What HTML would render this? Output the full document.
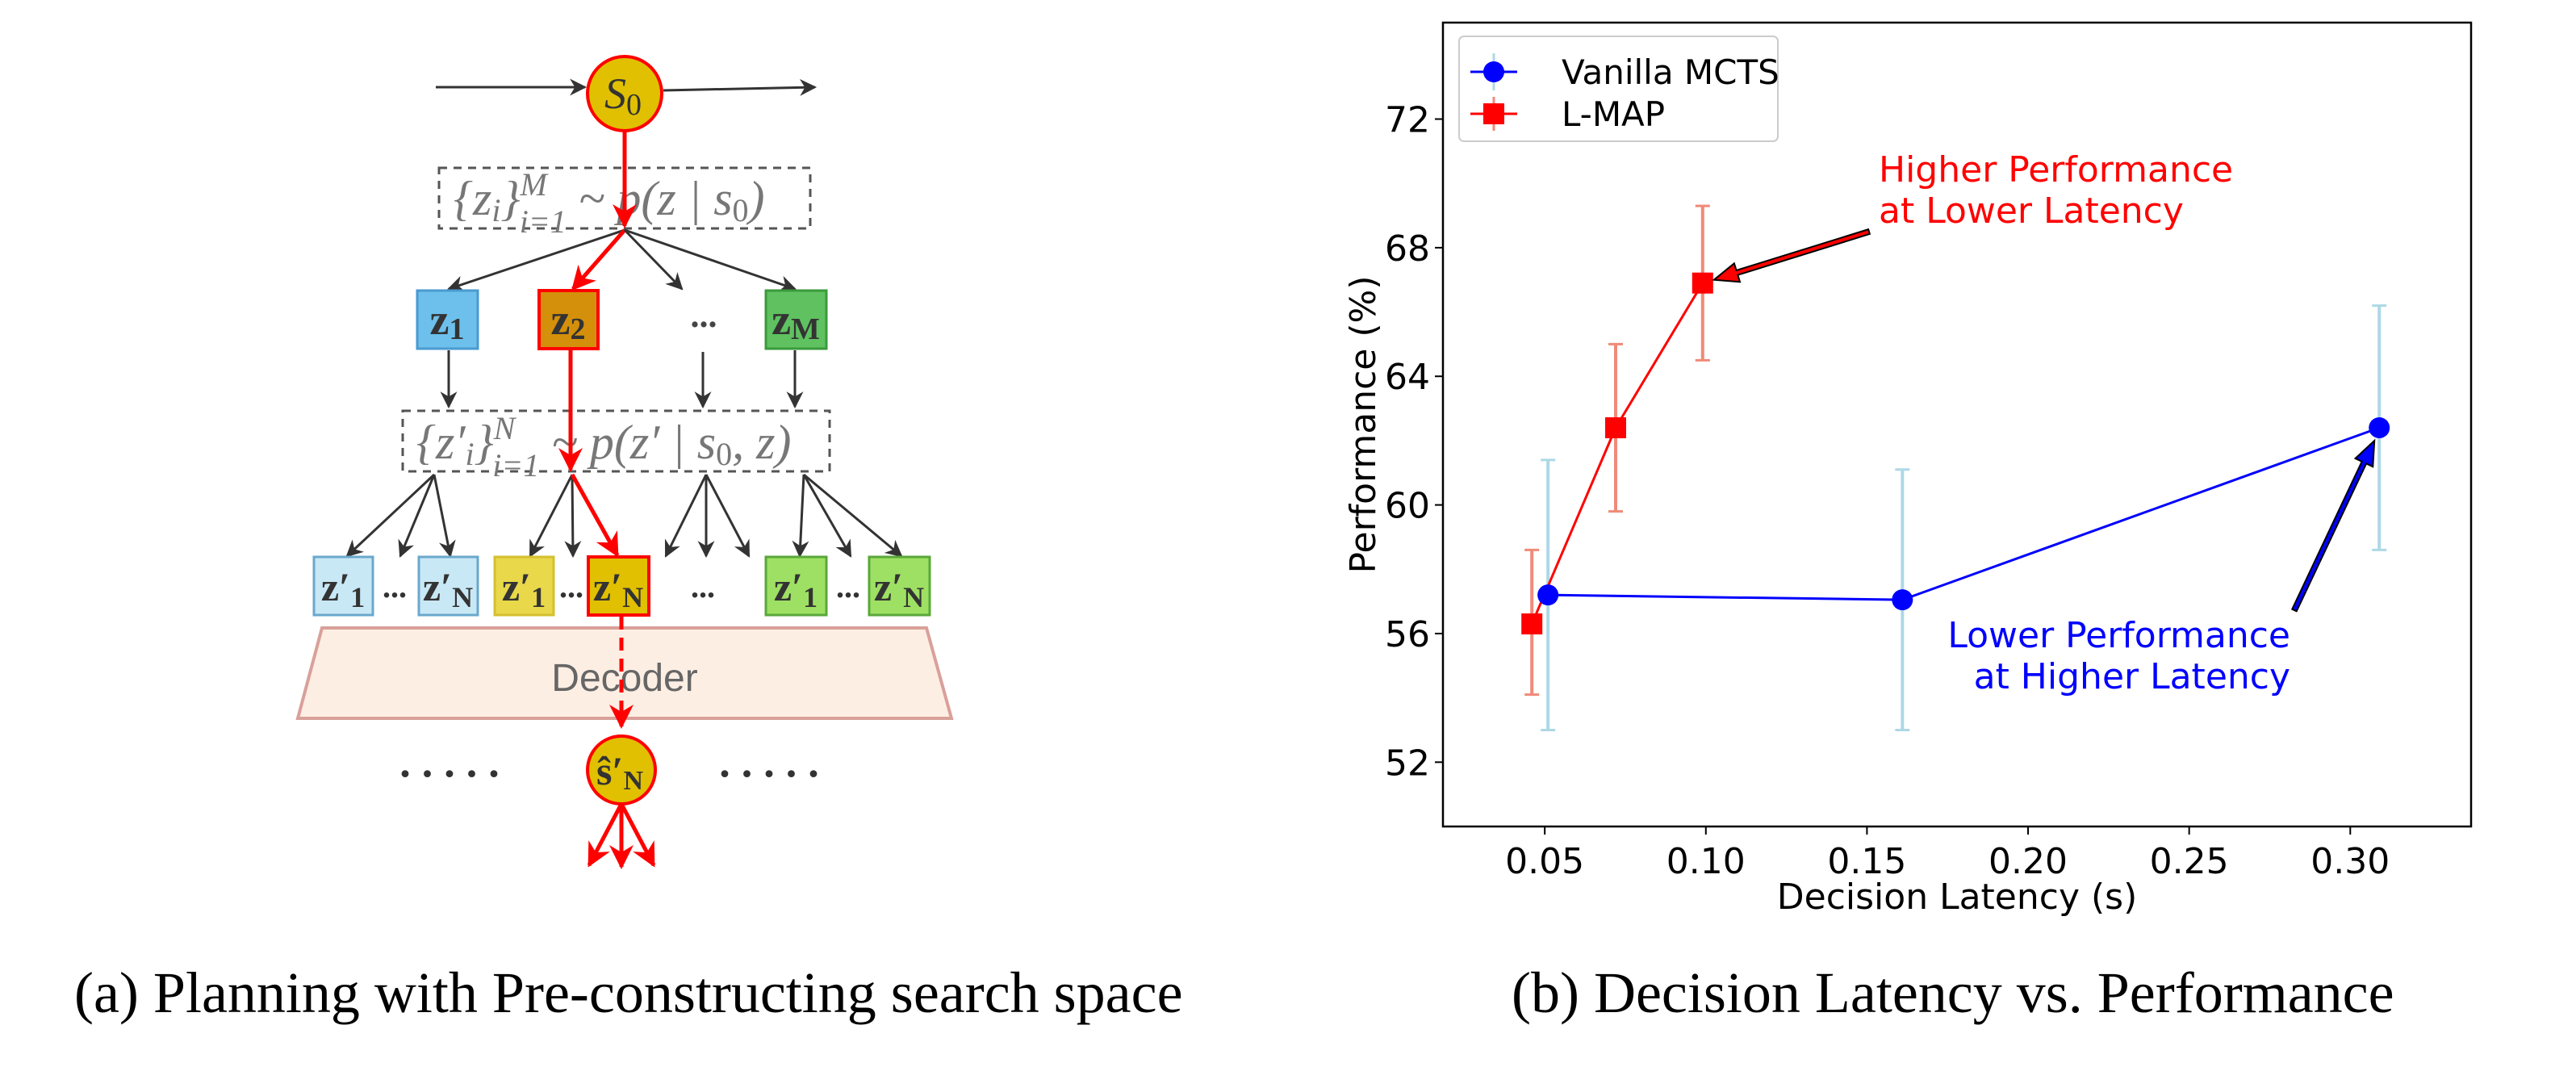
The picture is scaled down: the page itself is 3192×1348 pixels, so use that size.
<!DOCTYPE html>
<html><head><meta charset="utf-8"><style>
html,body{margin:0;padding:0;background:#fff;}
svg{display:block;}
</style></head><body>
<svg id="fig" width="3192" height="1348" viewBox="0 0 3192 1348" xmlns="http://www.w3.org/2000/svg">
<defs>
<marker id="ah" viewBox="0 0 10 10" refX="9" refY="5" markerWidth="7" markerHeight="7" orient="auto-start-reverse"><path d="M0,0 L10,5 L0,10 L3,5 z" fill="#333"/></marker>
<marker id="ahr" viewBox="0 0 10 10" refX="9" refY="5" markerWidth="6" markerHeight="6" orient="auto-start-reverse"><path d="M0,0 L10,5 L0,10 L3,5 z" fill="#f00"/></marker>
</defs>
<g font-family="'Liberation Serif', serif">
  <line x1="540" y1="108" x2="725" y2="108" stroke="#333" stroke-width="3" marker-end="url(#ah)"/>
  <line x1="822" y1="112" x2="1010" y2="108" stroke="#333" stroke-width="3" marker-end="url(#ah)"/>
  <circle cx="774" cy="116" r="46" fill="#e0c000" stroke="#f00" stroke-width="4"/>
  <text x="772" y="134" text-anchor="middle" font-size="54" font-style="italic" fill="#333">S<tspan font-size="38" font-style="normal" dy="8">0</tspan></text>
  <rect x="544" y="208" width="460" height="75" fill="none" stroke="#555" stroke-width="3" stroke-dasharray="10,8"/>
  <text x="562" y="266" font-size="60" font-style="italic" fill="#777">{z<tspan font-size="40" dy="8">i</tspan><tspan dy="-8">}</tspan><tspan font-size="40" dy="-24">M</tspan><tspan font-size="40" dx="-34" dy="46">i=1</tspan><tspan dy="-22"> ~ p(z | s</tspan><tspan font-size="40" font-style="normal" dy="8">0</tspan><tspan dy="-8">)</tspan></text>
  <line x1="774" y1="163" x2="774" y2="280" stroke="#f00" stroke-width="5" marker-end="url(#ahr)"/>
  <line x1="774" y1="285" x2="556" y2="358" stroke="#333" stroke-width="3" marker-end="url(#ah)"/>
  <line x1="774" y1="285" x2="710" y2="358" stroke="#f00" stroke-width="5" marker-end="url(#ahr)"/>
  <line x1="774" y1="285" x2="845" y2="358" stroke="#333" stroke-width="3" marker-end="url(#ah)"/>
  <line x1="774" y1="285" x2="985" y2="358" stroke="#333" stroke-width="3" marker-end="url(#ah)"/>
  <rect x="517" y="360" width="75" height="72" fill="#6cc0eb" stroke="#4a9ad0" stroke-width="3"/>
  <text x="554" y="414" text-anchor="middle" font-size="54" font-weight="bold" fill="#333">z<tspan font-size="38" dy="6">1</tspan></text>
  <rect x="668" y="360" width="73" height="72" fill="#d4900a" stroke="#f00" stroke-width="4"/>
  <text x="704" y="414" text-anchor="middle" font-size="54" font-weight="bold" fill="#333">z<tspan font-size="38" dy="6">2</tspan></text>
  <text x="872" y="405" text-anchor="middle" font-size="44" font-weight="bold" fill="#444">...</text>
  <rect x="949" y="360" width="75" height="72" fill="#5fc160" stroke="#3a9a3a" stroke-width="3"/>
  <text x="986" y="414" text-anchor="middle" font-size="54" font-weight="bold" fill="#333">z<tspan font-size="38" dy="6">M</tspan></text>
  <line x1="556" y1="434" x2="556" y2="504" stroke="#333" stroke-width="3" marker-end="url(#ah)"/>
  <line x1="871" y1="436" x2="871" y2="504" stroke="#333" stroke-width="3" marker-end="url(#ah)"/>
  <line x1="985" y1="434" x2="985" y2="504" stroke="#333" stroke-width="3" marker-end="url(#ah)"/>
  <rect x="499" y="509" width="529" height="75" fill="none" stroke="#555" stroke-width="3" stroke-dasharray="10,8"/>
  <text x="516" y="568" font-size="60" font-style="italic" fill="#777">{z′<tspan font-size="40" dy="8">i</tspan><tspan dy="-8">}</tspan><tspan font-size="40" dy="-24">N</tspan><tspan font-size="40" dx="-28" dy="46">i=1</tspan><tspan dy="-22"> ~ p(z′ | s</tspan><tspan font-size="40" font-style="normal" dy="8">0</tspan><tspan dy="-8">, z)</tspan></text>
  <line x1="707" y1="432" x2="707" y2="582" stroke="#f00" stroke-width="5" marker-end="url(#ahr)"/>
  <g stroke="#333" stroke-width="3">
    <line x1="538" y1="588" x2="430" y2="689" marker-end="url(#ah)"/>
    <line x1="538" y1="588" x2="496" y2="689" marker-end="url(#ah)"/>
    <line x1="538" y1="588" x2="558" y2="689" marker-end="url(#ah)"/>
    <line x1="709" y1="588" x2="657" y2="689" marker-end="url(#ah)"/>
    <line x1="709" y1="588" x2="710" y2="689" marker-end="url(#ah)"/>
    <line x1="875" y1="588" x2="825" y2="689" marker-end="url(#ah)"/>
    <line x1="875" y1="588" x2="875" y2="689" marker-end="url(#ah)"/>
    <line x1="875" y1="588" x2="928" y2="689" marker-end="url(#ah)"/>
    <line x1="996" y1="588" x2="991" y2="689" marker-end="url(#ah)"/>
    <line x1="996" y1="588" x2="1054" y2="689" marker-end="url(#ah)"/>
    <line x1="996" y1="588" x2="1117" y2="689" marker-end="url(#ah)"/>
  </g>
  <line x1="709" y1="588" x2="765" y2="688" stroke="#f00" stroke-width="5" marker-end="url(#ahr)"/>
  <g font-size="50" font-weight="bold" fill="#333">
    <rect x="389" y="690" width="73" height="72" fill="#c9e8f5" stroke="#6aa8cc" stroke-width="3"/>
    <text x="425" y="744" text-anchor="middle">z′<tspan font-size="36" dy="8">1</tspan></text>
    <rect x="519" y="690" width="73" height="72" fill="#c9e8f5" stroke="#6aa8cc" stroke-width="3"/>
    <text x="555" y="744" text-anchor="middle">z′<tspan font-size="36" dy="8">N</tspan></text>
    <rect x="613" y="690" width="73" height="72" fill="#e8d84a" stroke="#d4c030" stroke-width="3"/>
    <text x="649" y="744" text-anchor="middle">z′<tspan font-size="36" dy="8">1</tspan></text>
    <rect x="729" y="690" width="75" height="72" fill="#e0c000" stroke="#f00" stroke-width="4"/>
    <text x="766" y="744" text-anchor="middle">z′<tspan font-size="36" dy="8">N</tspan></text>
    <rect x="949" y="690" width="75" height="72" fill="#9ee063" stroke="#5aa73a" stroke-width="3"/>
    <text x="986" y="744" text-anchor="middle">z′<tspan font-size="36" dy="8">1</tspan></text>
    <rect x="1077" y="690" width="75" height="72" fill="#9ee063" stroke="#5aa73a" stroke-width="3"/>
    <text x="1114" y="744" text-anchor="middle">z′<tspan font-size="36" dy="8">N</tspan></text>
    <text x="489" y="740" text-anchor="middle" font-size="40">...</text>
    <text x="708" y="740" text-anchor="middle" font-size="40">...</text>
    <text x="871" y="740" text-anchor="middle" font-size="40">...</text>
    <text x="1051" y="740" text-anchor="middle" font-size="40">...</text>
  </g>
  <polygon points="399,778 1148,778 1179,890 369,890" fill="#fdeee3" stroke="#d9a09a" stroke-width="4"/>
  <text x="774" y="856" text-anchor="middle" font-family="'Liberation Sans', sans-serif" font-size="48" fill="#666">Decoder</text>
  <line x1="770" y1="764" x2="770" y2="900" stroke="#f00" stroke-width="5" stroke-dasharray="16,10" marker-end="url(#ahr)"/>
  <circle cx="770" cy="954" r="42" fill="#e0c000" stroke="#f00" stroke-width="4"/>
  <text x="768" y="972" text-anchor="middle" font-size="50" font-weight="bold" fill="#333">ŝ′<tspan font-size="34" dy="6">N</tspan></text>
  <text x="564" y="962" text-anchor="middle" font-size="54" font-weight="bold" fill="#333" letter-spacing="14">.....</text>
  <text x="960" y="962" text-anchor="middle" font-size="54" font-weight="bold" fill="#333" letter-spacing="14">.....</text>
  <g stroke="#f00" stroke-width="5">
    <line x1="770" y1="996" x2="730" y2="1072" marker-end="url(#ahr)"/>
    <line x1="770" y1="996" x2="770" y2="1074" marker-end="url(#ahr)"/>
    <line x1="770" y1="996" x2="810" y2="1072" marker-end="url(#ahr)"/>
  </g>
  <text x="92" y="1254" font-size="72" fill="#000">(a) Planning with Pre-constructing search space</text>
</g>
<g id="chart" font-family="'DejaVu Sans', 'Liberation Sans', sans-serif"></g>
<text x="1873" y="1254" font-family="'Liberation Serif', serif" font-size="72" fill="#000">(b) Decision Latency vs. Performance</text>
</svg>
<script>
const vanillaX = [0.051, 0.161, 0.309];
const vanillaY = [57.2, 57.05, 62.4];
const vanillaLo = [53.0, 53.0, 58.6];
const vanillaHi = [61.4, 61.1, 66.2];
const lmapX = [0.046, 0.072, 0.099];
const lmapY = [56.3, 62.4, 66.9];
const lmapLo = [54.1, 59.8, 64.5];
const lmapHi = [58.6, 65.0, 69.3];
const xTicks = [0.05, 0.10, 0.15, 0.20, 0.25, 0.30];
const xTickLabels = ["0.05", "0.10", "0.15", "0.20", "0.25", "0.30"];
const yTicks = [52, 56, 60, 64, 68, 72];
const yTickLabels = ["52", "56", "60", "64", "68", "72"];

const NS = "http://www.w3.org/2000/svg";
const g = document.getElementById('chart');
const L = 1788, R = 3062, T = 28, B = 1024;
const xMin = 0.0184, xMax = 0.3375, yMin = 50.0, yMax = 75.0;
const sx = v => L + (v - xMin) / (xMax - xMin) * (R - L);
const sy = v => B - (v - yMin) / (yMax - yMin) * (B - T);
function mk(tag, attrs, parent) {
  const e = document.createElementNS(NS, tag);
  for (const k in attrs) e.setAttribute(k, attrs[k]);
  (parent || g).appendChild(e);
  return e;
}
let e;
e = mk('rect', {x: L, y: T, width: R - L, height: B - T, fill: '#fff', stroke: '#000', 'stroke-width': 2.5});


xTicks.forEach((v, i) => {
  const x = sx(v);
  e = mk('line', {x1: x, y1: B, x2: x, y2: B + 10, stroke: '#000', 'stroke-width': 2});
  
  
  e = mk('text', {x: x, y: B + 58, 'text-anchor': 'middle', 'font-size': 44, fill: '#000'});
  e.textContent = xTickLabels[i];
  
  
});
yTicks.forEach((v, i) => {
  const y = sy(v);
  e = mk('line', {x1: L - 10, y1: y, x2: L, y2: y, stroke: '#000', 'stroke-width': 2});
  
  
  e = mk('text', {x: L - 16, y: y + 16, 'text-anchor': 'end', 'font-size': 44, fill: '#000'});
  e.textContent = yTickLabels[i];
  
  
});
e = mk('text', {x: (L + R) / 2, y: 1126, 'text-anchor': 'middle', 'font-size': 44, fill: '#000'});
e.textContent = 'Decision Latency (s)';


e = mk('text', {x: 0, y: 0, 'text-anchor': 'middle', 'font-size': 44, fill: '#000', transform: `translate(1704,${(T + B) / 2}) rotate(-90)`});
e.textContent = 'Performance (%)';



function errBars(xs, lo, hi, color, name) {
  xs.forEach((v, i) => {
    const x = sx(v);
    e = mk('line', {x1: x, y1: sy(lo[i]), x2: x, y2: sy(hi[i]), stroke: color, 'stroke-width': 4});
    
    
    [lo[i], hi[i]].forEach(c => {
      e = mk('line', {x1: x - 9, y1: sy(c), x2: x + 9, y2: sy(c), stroke: color, 'stroke-width': 3});
      
      
    });
  });
}
errBars(vanillaX, vanillaLo, vanillaHi, '#add8e6', 'vanilla-error-bar');
errBars(lmapX, lmapLo, lmapHi, '#f08a78', 'lmap-error-bar');

e = mk('polyline', {points: vanillaX.map((v, i) => sx(v) + ',' + sy(vanillaY[i])).join(' '), fill: 'none', stroke: '#0000ff', 'stroke-width': 3});


e = mk('polyline', {points: lmapX.map((v, i) => sx(v) + ',' + sy(lmapY[i])).join(' '), fill: 'none', stroke: '#ff0000', 'stroke-width': 3});


vanillaX.forEach((v, i) => {
  e = mk('circle', {cx: sx(v), cy: sy(vanillaY[i]), r: 13, fill: '#0000ff'});
  
  
});
lmapX.forEach((v, i) => {
  e = mk('rect', {x: sx(v) - 13, y: sy(lmapY[i]) - 13, width: 26, height: 26, fill: '#ff0000'});
  
  
});

function fancyArrow(x1, y1, x2, y2, fill, name) {
  const dx = x2 - x1, dy = y2 - y1, len = Math.hypot(dx, dy);
  const ux = dx / len, uy = dy / len, px = -uy, py = ux;
  const hl = 30, hw = 12, sw = 3;
  const bx = x2 - ux * hl, by = y2 - uy * hl;
  const pts = [
    [x1 + px * sw, y1 + py * sw], [bx + px * sw, by + py * sw], [bx + px * hw, by + py * hw], [x2, y2],
    [bx - px * hw, by - py * hw], [bx - px * sw, by - py * sw], [x1 - px * sw, y1 - py * sw]
  ];
  e = mk('polygon', {points: pts.map(p => p.join(',')).join(' '), fill: fill, stroke: '#000', 'stroke-width': 2});
  
  
}
fancyArrow(2316, 287, sx(lmapX[2]) + 14, sy(lmapY[2]) - 4, '#ff0000', 'lmap-annotation-arrow');
fancyArrow(2843, 756, sx(vanillaX[2]) - 6, sy(vanillaY[2]) + 16, '#0000ff', 'vanilla-annotation-arrow');
[['Higher Performance', 2328, 225], ['at Lower Latency', 2328, 276]].forEach(t => {
  e = mk('text', {x: t[1], y: t[2], 'font-size': 44, fill: '#ff0000'});
  e.textContent = t[0];
  
  
});
[['Lower Performance', 2838, 802], ['at Higher Latency', 2838, 853]].forEach(t => {
  e = mk('text', {x: t[1], y: t[2], 'font-size': 44, fill: '#0000ff', 'text-anchor': 'end'});
  e.textContent = t[0];
  
  
});

const lg = mk('g', {});


mk('rect', {x: 1808, y: 45, width: 395, height: 130, rx: 6, fill: '#fff', stroke: '#ccc', 'stroke-width': 2}, lg);
const le1 = mk('g', {}, lg);


mk('line', {x1: 1851, y1: 66, x2: 1851, y2: 112, stroke: '#add8e6', 'stroke-width': 3}, le1);
mk('line', {x1: 1822, y1: 89, x2: 1880, y2: 89, stroke: '#0000ff', 'stroke-width': 3}, le1);
mk('circle', {cx: 1851, cy: 89, r: 13, fill: '#0000ff'}, le1);
const t1 = mk('text', {x: 1935, y: 104, 'font-size': 42, fill: '#000'}, le1);
t1.textContent = 'Vanilla MCTS';
const le2 = mk('g', {}, lg);


mk('line', {x1: 1851, y1: 120, x2: 1851, y2: 162, stroke: '#f08a78', 'stroke-width': 3}, le2);
mk('line', {x1: 1822, y1: 141, x2: 1880, y2: 141, stroke: '#ff0000', 'stroke-width': 3}, le2);
mk('rect', {x: 1838, y: 128, width: 26, height: 26, fill: '#ff0000'}, le2);
const t2 = mk('text', {x: 1935, y: 156, 'font-size': 42, fill: '#000'}, le2);
t2.textContent = 'L-MAP';
</script>
</body></html>
